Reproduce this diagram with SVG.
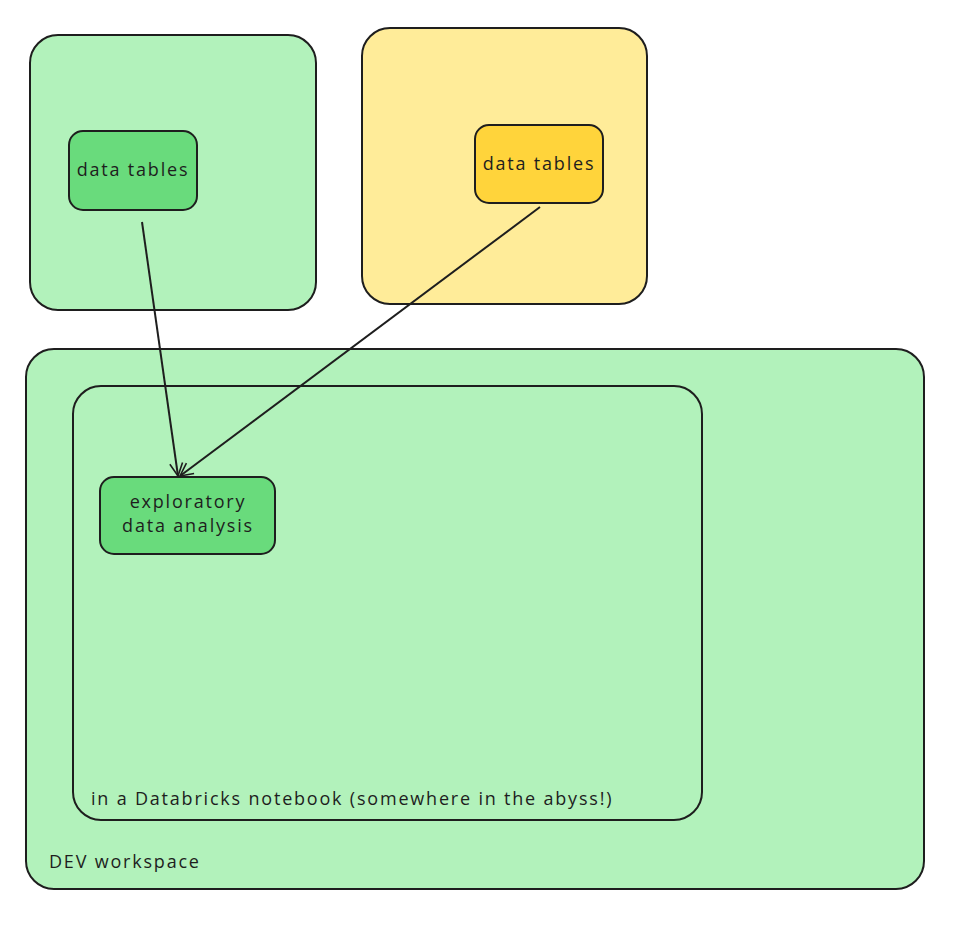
<svg xmlns="http://www.w3.org/2000/svg" width="958" height="936" viewBox="0 0 958 936">
<defs>
<style>
.b{stroke:#1e1e1e;stroke-width:2}
.g{fill:#b2f2bb}.gn{fill:#69db7c}.y{fill:#ffec99}.yn{fill:#ffd43b}
text{font-family:"Open Sans","DejaVu Sans",sans-serif;font-size:18px;letter-spacing:1.8px;fill:#1e1e1e}
.c{text-anchor:middle}
.l{stroke:#1e1e1e;stroke-width:2;fill:none}
</style>
<marker id="a" viewBox="0 0 20 20" refX="18" refY="10" markerWidth="16" markerHeight="16" orient="auto" markerUnits="userSpaceOnUse"><path d="M2,2 L18,10 L2,18" class="l"/></marker>
</defs>
<rect width="958" height="936" fill="#fff"/>
<g id="src-green"><rect class="b g" x="30" y="35" width="286" height="275" rx="28"/></g>
<g id="src-yellow"><rect class="b y" x="362" y="28" width="285" height="276" rx="28"/></g>
<g id="tables-green"><rect class="b gn" x="69" y="131" width="128" height="79" rx="14"/><text class="c" x="133" y="176">data tables</text></g>
<g id="tables-yellow"><rect class="b yn" x="475" y="125" width="128" height="78" rx="14"/><text class="c" x="539" y="170">data tables</text></g>
<g id="dev"><rect class="b g" x="26" y="349" width="898" height="540" rx="28"/><text x="49" y="868">DEV workspace</text></g>
<g id="notebook"><rect class="b g" x="73" y="386" width="629" height="434" rx="28"/><text x="91" y="805">in a Databricks notebook (somewhere in the abyss!)</text></g>
<g id="eda"><rect class="b gn" x="100" y="477" width="175" height="77" rx="14"/><text class="c" x="188" y="508">exploratory</text><text class="c" x="188" y="532">data analysis</text></g>
<g id="connectors">
<path class="l" d="M142,222 L178,476" marker-end="url(#a)"/>
<path class="l" d="M540,207 L180,476" marker-end="url(#a)"/>
</g>
</svg>
